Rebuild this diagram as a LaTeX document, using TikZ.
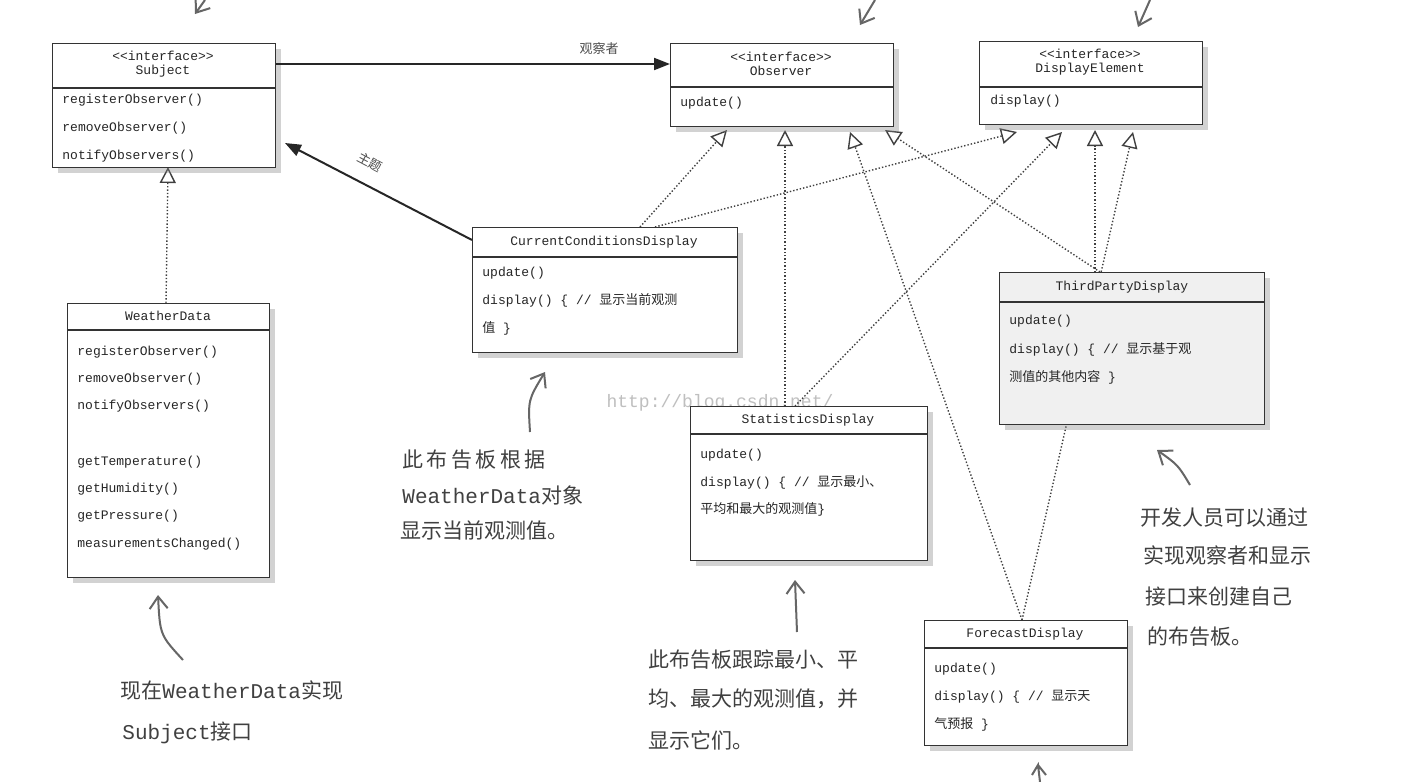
\documentclass[tikz,border=0pt]{standalone}
\usepackage{fontspec}
\setmonofont{Liberation Mono}
\newfontfamily\cjk{Noto Sans CJK SC}
\usetikzlibrary{arrows.meta,shadows,calc}
\begin{document}
\begin{tikzpicture}[x=0.5pt,y=-0.5pt,
  box/.style={draw=black!80,line width=0.6pt,fill=white,anchor=north west,inner sep=0,drop shadow={shadow xshift=2.5pt,shadow yshift=-2.5pt,opacity=0.35}},
  mt/.style={anchor=west,font=\ttfamily\fontsize{6.5}{7}\selectfont,text=black!85,inner sep=0},
  tt/.style={anchor=center,font=\ttfamily\fontsize{6.5}{7}\selectfont,text=black!85,inner sep=0,align=center},
  cj/.style={font=\cjk\fontsize{6.5}{7}\selectfont},
  ann/.style={anchor=west,font=\cjk\fontsize{10.5}{12}\selectfont,text=black!75,inner sep=0},
  real/.style={draw=black!75,densely dotted,line width=0.7pt,-{Triangle[open,length=8pt,width=8pt,fill=white]}},
  assoc/.style={draw=black!85,line width=1pt,-{Triangle[length=8pt,width=6pt]}},
  hand/.style={draw=black!60,line width=1pt,-{Straight Barb[length=6pt,width=9pt]}}]
\useasboundingbox (0,0) rectangle (1420,782);
\fill[white] (0,0) rectangle (1420,782);
\newcommand\ubox[6]{%
  \node[box,minimum width={(#4-#2)*0.5pt},minimum height={(#5-#3)*0.5pt}] (#1) at (#2,#3) {};
  \draw[black!80,line width=0.6pt] (#2,#6) -- (#4,#6);}
% watermark
\node[font=\ttfamily\fontsize{9}{10}\selectfont,text=black!25] (wm) at (720,403) {http://blog.csdn.net/};
% dotted realization lines (drawn first)
\coordinate (oT1) at (727,130); \coordinate (oT2) at (785,130);
\coordinate (oT3) at (850,132); \coordinate (oT4) at (885,130);
\coordinate (dT1) at (1017,132); \coordinate (dT2) at (1062,132);
\coordinate (dT3) at (1095,130); \coordinate (dT4) at (1133,132);
\coordinate (sT) at (168,167);
\coordinate (ccdA) at (640,227); \coordinate (ccdB) at (655,227);
\coordinate (stA) at (785,406); \coordinate (stB) at (795,406);
\coordinate (fcA) at (1022,620);
\coordinate (tpA) at (1095,272); \coordinate (tpB) at (1100,272);
\coordinate (wdA) at (166,303);
\draw[real] (fcA) -- (dT4);
\draw[real] (fcA) -- (oT3);
\draw[real] (stA) -- (oT2);
\draw[real] (stB) -- (dT2);
\draw[real] (ccdA) -- (oT1);
\draw[real] (ccdB) -- (dT1);
\draw[real] (tpA) -- (dT3);
\draw[real] (tpB) -- (oT4);
\draw[real] (wdA) -- (sT);
% boxes
\ubox{subj}{52}{43}{275}{167}{88}
\node[tt] (subjt) at (163,64) {<<interface>>\\Subject};
\node[mt] (s1) at (62,100) {registerObserver()};
\node[mt] (s2) at (62,128) {removeObserver()};
\node[mt] (s3) at (62,156) {notifyObservers()};
\ubox{obs}{670}{43}{893}{126}{87}
\node[tt] (obst) at (781,64) {<<interface>>\\Observer};
\node[mt] (o1) at (680,103) {update()};
\ubox{disp}{979}{41}{1202}{124}{87}
\node[tt] (dispt) at (1090,62) {<<interface>>\\DisplayElement};
\node[mt] (d1) at (990,101) {display()};
\ubox{ccd}{472}{227}{737}{352}{257}
\node[tt] (ccdt) at (604,242) {CurrentConditionsDisplay};
\node[mt] (c1) at (482,273) {update()};
\node[mt] (c2) at (482,300) {display() \{ // {\cjk 显示当前观测}};
\node[mt] (c3) at (482,328) {{\cjk 值} \}};
\ubox{wd}{67}{303}{269}{577}{330}
\node[tt] (wdt) at (168,316) {WeatherData};
\node[mt] (w1) at (77,352) {registerObserver()};
\node[mt] (w2) at (77,379) {removeObserver()};
\node[mt] (w3) at (77,406) {notifyObservers()};
\node[mt] (w4) at (77,462) {getTemperature()};
\node[mt] (w5) at (77,489) {getHumidity()};
\node[mt] (w6) at (77,516) {getPressure()};
\node[mt] (w7) at (77,544) {measurementsChanged()};
\ubox{st}{690}{406}{927}{560}{434}
\node[tt] (stt) at (808,420) {StatisticsDisplay};
\node[mt] (t1) at (700,455) {update()};
\node[mt] (t2) at (700,482) {display() \{ // {\cjk 显示最小、}};
\node[mt] (t3) at (700,509) {{\cjk 平均和最大的观测值}\}};
\node[box,fill=black!6,minimum width=132.5pt,minimum height=76pt] (tp) at (999,272) {};
\draw[black!80,line width=0.6pt] (999,302) -- (1264,302);
\node[tt] (tpt) at (1122,287) {ThirdPartyDisplay};
\node[mt] (p1) at (1009,321) {update()};
\node[mt] (p2) at (1009,349) {display() \{ // {\cjk 显示基于观}};
\node[mt] (p3) at (1009,377) {{\cjk 测值的其他内容} \}};
\ubox{fc}{924}{620}{1127}{745}{648}
\node[tt] (fct) at (1025,634) {ForecastDisplay};
\node[mt] (f1) at (934,669) {update()};
\node[mt] (f2) at (934,697) {display() \{ // {\cjk 显示天}};
\node[mt] (f3) at (934,724) {{\cjk 气预报} \}};
% associations
\draw[assoc] (subj.east |- 0,64) -- (obs.west |- 0,64) node[pos=0.82,above=1pt,cj,text=black!70] (lo) {观察者};
\draw[assoc] (ccd.west |- 0,240) -- (285,143);
\node[cj,text=black!70,rotate=-28] (ls) at (370,162) {主题};
% hand-drawn arrows
\coordinate (h1a) at (205,0); \coordinate (h1b) at (195,14); \draw[hand] (h1a) -- (h1b);
\coordinate (h2a) at (875,0); \coordinate (h2b) at (860,25); \draw[hand] (h2a) -- (h2b);
\coordinate (h3a) at (1150,0); \coordinate (h3b) at (1138,27); \draw[hand] (h3a) -- (h3b);
\coordinate (h4a) at (530,432); \coordinate (h4b) at (545,372); \draw[hand] (h4a) .. controls (528,400) .. (h4b);
\coordinate (h5a) at (183,660); \coordinate (h5b) at (158,595); \draw[hand] (h5a) .. controls (160,635) .. (h5b);
\coordinate (h6a) at (797,632); \coordinate (h6b) at (795,580); \draw[hand] (h6a) -- (h6b);
\coordinate (h7a) at (1190,485); \coordinate (h7b) at (1157,450); \draw[hand] (h7a) .. controls (1178,465) .. (h7b);
\coordinate (h8a) at (1040,782); \coordinate (h8b) at (1038,765); \draw[black!60,line width=1pt] (h8a) -- (h8b) -- (1032,775) (h8b) -- (1046,775);
% annotations
\node[ann] (a1) at (402,460) {此\,布\,告\,板\,根\,据};
\node[ann,font=\ttfamily\fontsize{10.5}{12}\selectfont] (a2) at (402,495) {WeatherData{\cjk 对象}};
\node[ann] (a3) at (400,530) {显示当前观测值。};
\node[ann] (b1) at (120,690) {现在{\ttfamily WeatherData}实现};
\node[ann] (b2) at (122,733) {{\ttfamily Subject}接口};
\node[ann] (c1a) at (648,660) {此布告板跟踪最小、平};
\node[ann] (c2a) at (648,699) {均、最大的观测值，并};
\node[ann] (c3a) at (648,740) {显示它们。};
\node[ann] (d1a) at (1140,518) {开发人员可以通过};
\node[ann] (d2a) at (1143,555) {实现观察者和显示};
\node[ann] (d3a) at (1145,597) {接口来创建自己};
\node[ann] (d4a) at (1147,637) {的布告板。};
\end{tikzpicture}
\end{document}
